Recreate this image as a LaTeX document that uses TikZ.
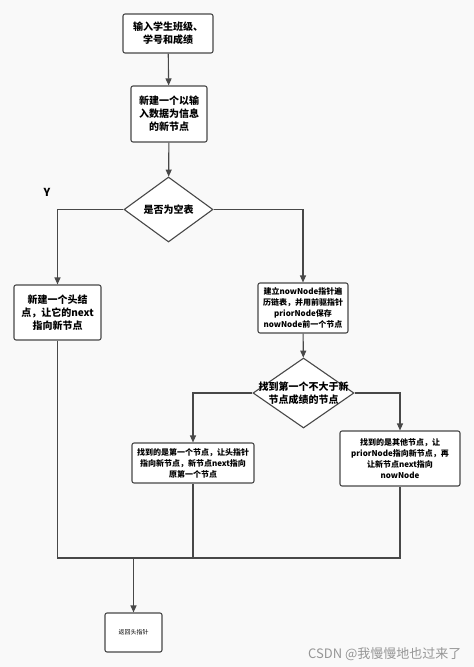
\documentclass[tikz,border=0pt]{standalone}
\usepackage{fontspec}
\setmainfont{Noto Sans CJK SC}
\usepackage{xcolor}
\usepackage{tikz}
\usetikzlibrary{arrows.meta}
\usetikzlibrary{positioning, shapes.geometric}
\definecolor{bgcol}{RGB}{249,249,249}
\definecolor{edgecol}{RGB}{72,72,72}
\definecolor{markcol}{RGB}{150,150,150}
\tikzset{
stepbox/.style = { rectangle, draw = edgecol, fill = white, line width = 1.1pt, rounded corners = 2pt, align = center, inner sep = 0pt, font = \bfseries\fontsize{9}{12}\selectfont },
cond/.style = { diamond, draw = edgecol, fill = white, line width = 1.1pt, inner sep = 0pt },
flow/.style = { draw = edgecol, line width = 1.1pt },
arr/.style = { flow, -{Triangle[length = 7pt, width = 6pt]} },
}
\begin{document}
\begin{tikzpicture}[x = 1pt, y = -1pt]
    \fill[bgcol] (0, 0) rectangle (474, 667);
    \useasboundingbox (0, 0) rectangle (474, 667);
    % input and new node
    \node[stepbox, minimum width = 90pt, minimum height = 39pt, font = \bfseries\fontsize{10}{13}\selectfont] (input) at (168, 33.5) {输入学生班级、\\学号和成绩};
    \node[stepbox, minimum width = 76pt, minimum height = 56pt, font = \bfseries\fontsize{10}{13}\selectfont] (newnode) at (169, 114) {新建一个以输\\入数据为信息\\的新节点};
    \node[cond, minimum width = 89pt, minimum height = 65pt, label = {[font = \bfseries\fontsize{10}{12}\selectfont]center:是否为空表}] (empty) at (168.5, 209.5) {};
    \node[font = \bfseries\fontsize{11}{12}\selectfont] (yes) at (47, 192) {Y};
    % empty list
    \node[stepbox, minimum width = 87pt, minimum height = 55pt, font = \bfseries\fontsize{10}{13}\selectfont] (head) at (57.5, 312.5) {新建一个头结\\点，让它的next\\指向新节点};
    % not empty
    \node[stepbox, minimum width = 90pt, minimum height = 50pt, font = \bfseries\fontsize{8}{11}\selectfont] (walk) at (303, 308) {建立nowNode指针遍\\历链表，并用前驱指针\\priorNode保存\\nowNode前一个节点};
    \node[cond, minimum width = 101pt, minimum height = 70pt, label = {[font = \bfseries\fontsize{10}{13}\selectfont, align = center]center:找到第一个不大于新\\节点成绩的节点}] (find) at (303.5, 393) {};
    \node[stepbox, minimum width = 122pt, minimum height = 40pt, font = \bfseries\fontsize{8}{11}\selectfont] (first) at (193, 463) {找到的是第一个节点，让头指针\\指向新节点，新节点next指向\\原第一个节点};
    \node[stepbox, minimum width = 120pt, minimum height = 55pt, font = \bfseries\fontsize{8}{11}\selectfont] (other) at (400, 458.5) {找到的是其他节点，让\\priorNode指向新节点，再\\让新节点next指向\\nowNode};
    % return
    \node[stepbox, minimum width = 57pt, minimum height = 39pt, font = \fontsize{6}{8}\selectfont] (ret) at (133.5, 632.5) {返回头指针};
    \coordinate (joinl) at (57.5, 558);
    \coordinate (joinm) at (133.5, 558);
    \coordinate (joinr) at (400, 558);
    \draw[arr] (input) -- (newnode);
    \draw[arr] (newnode) -- (empty);
    \draw[arr] (empty) -| (head);
    \draw[arr] (empty) -| (walk);
    \draw[arr] (walk) -- (find);
    \draw[arr] (find.west) -| (first);
    \draw[arr] (find.east) -| (other);
    \draw[flow] (head) -- (joinl) -- (joinr) -- (other);
    \draw[flow] (first) -- (first |- joinm);
    \draw[arr] (joinm) -- (ret);
    \node[anchor = east, text = markcol, font = \fontsize{13}{14}\selectfont] (mark) at (465, 654) {CSDN @我慢慢地也过来了};
\end{tikzpicture}
\end{document}
